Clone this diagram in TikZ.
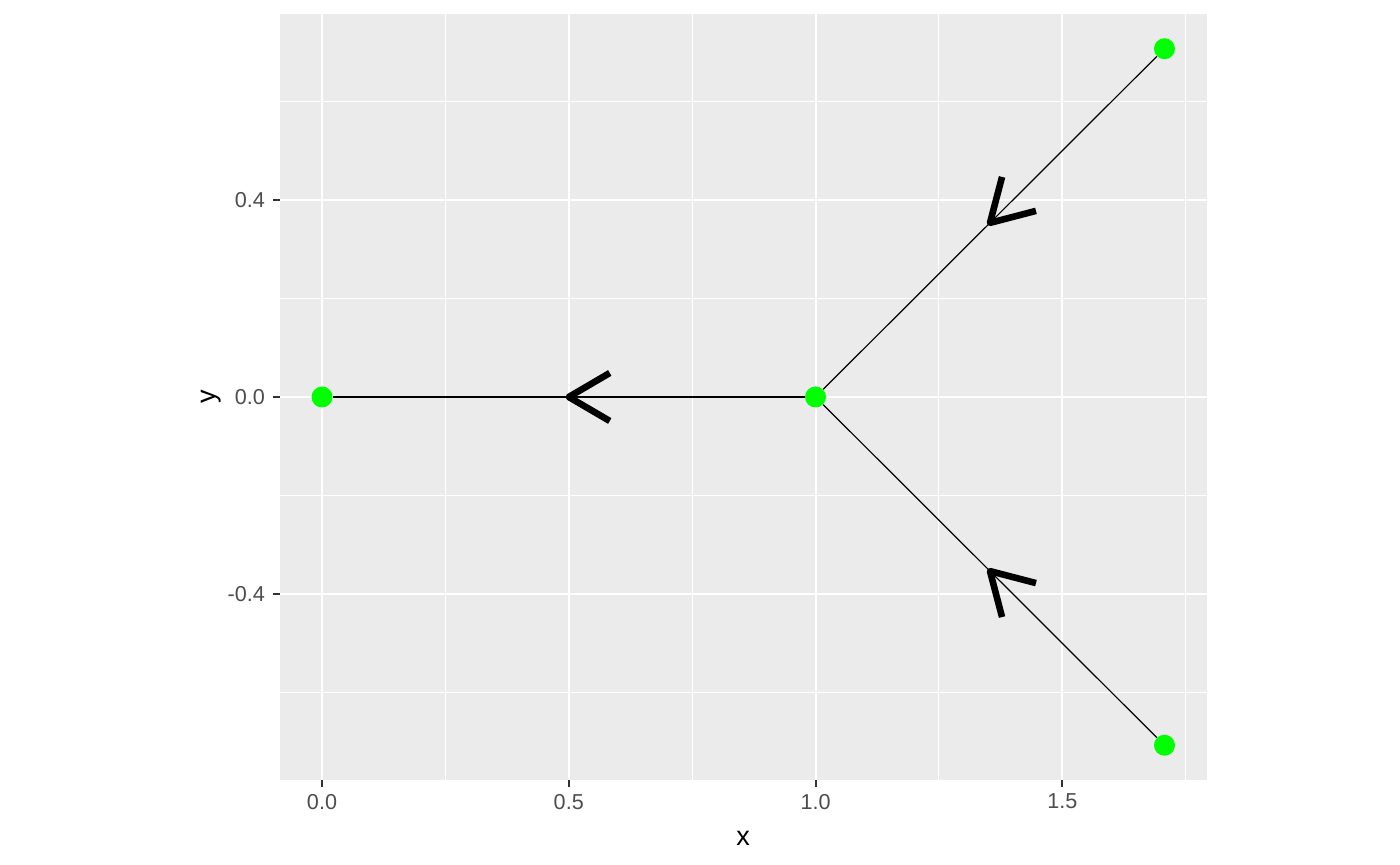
\documentclass[tikz,border=0pt]{standalone}
\usepackage{fontspec}
\setmainfont{Liberation Sans}
\usetikzlibrary{decorations.markings}
\definecolor{panelgray}{HTML}{EBEBEB}
\definecolor{labgray}{HTML}{4D4D4D}
\definecolor{tickgray}{HTML}{333333}
\definecolor{ptgreen}{HTML}{00FF00}

\begin{document}
\begin{tikzpicture}[x=.5pt,y=.5pt,
  pt/.style={circle,fill=ptgreen,inner sep=0pt,minimum size=10.5pt},
  edge/.style={line width=.6pt,postaction={decorate},
    decoration={markings,mark=at position .5 with
      {\draw[line width=3.3pt,line join=round] (-20.5pt,12pt)--(0,0)--(-20.5pt,-12pt);}}},
  ticklab/.style={text=labgray,font=\fontsize{10.8}{13}\selectfont,inner sep=0pt},
  axtitle/.style={font=\fontsize{13.5}{16}\selectfont,inner sep=0pt}]
 \useasboundingbox (0,0) rectangle (1400,865);
 \begin{scope}[shift={(322,468)},x=246.75pt,y=246.25pt]
  \fill[panelgray] (-.0854,-.7778) rectangle (1.7925,.7778);
  \draw[step={(.25,.2)},white,line width=.5pt] (-.0854,-.7778) grid (1.7925,.7778);
  \draw[step={(.5,.4)},white,line width=1pt] (-.0854,-.7778) grid (1.7925,.7778);
  \foreach \t/\l in {0/0.0,.5/0.5,1/1.0,1.5/1.5}
   \draw[tickgray,line width=1pt] (\t,-.7778) -- ++(0,-3.5pt)
        node[ticklab,anchor=north,yshift=-3pt] {\l};
  \foreach \t/\l in {-.4/-0.4,0/0.0,.4/0.4}
   \draw[tickgray,line width=1pt] (-.0854,\t) -- ++(-3.5pt,0)
        node[ticklab,anchor=east,xshift=-3.5pt] {\l};
  \node[axtitle] (xlab) at (.8535,-.897) {x};
  \node[axtitle,rotate=90] (ylab) at (-.225,0) {y};
  \node[pt] (o) at (0,0) {};
  \node[pt] (c) at (1,0) {};
  \node[pt] (u) at (1.7071,.7071) {};
  \node[pt] (l) at (1.7071,-.7071) {};
  \draw[edge] (c) -- (o);
  \draw[edge] (u) -- (c);
  \draw[edge] (l) -- (c);
 \end{scope}
\end{tikzpicture}
\end{document}
